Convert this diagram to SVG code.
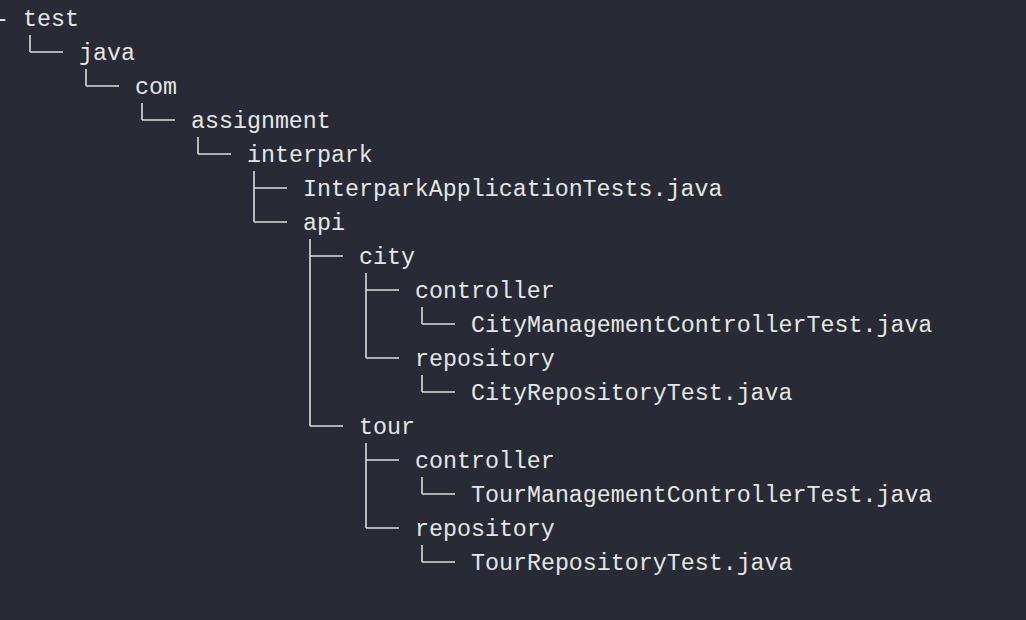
<svg xmlns="http://www.w3.org/2000/svg" width="1026" height="620" viewBox="0 0 1026 620">
<style>
text{font-family:"Liberation Mono","DejaVu Sans Mono",monospace;font-size:23.3px;fill:#e6e6e6}
.c line{stroke:#dcdcdc;stroke-width:1.6}
</style>
<rect width="1026" height="620" fill="#282a35"/>
<g class="c" id="connectors">
<line x1="30" y1="35" x2="30" y2="52"/><line x1="30" y1="52" x2="63" y2="52"/>
<line x1="86" y1="69" x2="86" y2="86"/><line x1="86" y1="86" x2="119" y2="86"/>
<line x1="142" y1="103" x2="142" y2="120"/><line x1="142" y1="120" x2="175" y2="120"/>
<line x1="198" y1="137" x2="198" y2="154"/><line x1="198" y1="154" x2="231" y2="154"/>
<line x1="254" y1="171" x2="254" y2="222"/><line x1="254" y1="188" x2="287" y2="188"/><line x1="254" y1="222" x2="287" y2="222"/>
<line x1="310" y1="239" x2="310" y2="426"/><line x1="310" y1="256" x2="343" y2="256"/><line x1="310" y1="426" x2="343" y2="426"/>
<line x1="366" y1="273" x2="366" y2="358"/><line x1="366" y1="290" x2="399" y2="290"/><line x1="366" y1="358" x2="399" y2="358"/>
<line x1="422" y1="307" x2="422" y2="324"/><line x1="422" y1="324" x2="455" y2="324"/>
<line x1="422" y1="375" x2="422" y2="392"/><line x1="422" y1="392" x2="455" y2="392"/>
<line x1="366" y1="443" x2="366" y2="528"/><line x1="366" y1="460" x2="399" y2="460"/><line x1="366" y1="528" x2="399" y2="528"/>
<line x1="422" y1="477" x2="422" y2="494"/><line x1="422" y1="494" x2="455" y2="494"/>
<line x1="422" y1="545" x2="422" y2="562"/><line x1="422" y1="562" x2="455" y2="562"/>
</g>
<g id="n0"><text x="-5" y="26">- test</text></g>
<g id="n1"><text x="79" y="60">java</text></g>
<g id="n2"><text x="135" y="94">com</text></g>
<g id="n3"><text x="191" y="128">assignment</text></g>
<g id="n4"><text x="247" y="162">interpark</text></g>
<g id="n5"><text x="303" y="196">InterparkApplicationTests.java</text></g>
<g id="n6"><text x="303" y="230">api</text></g>
<g id="n7"><text x="359" y="264">city</text></g>
<g id="n8"><text x="415" y="298">controller</text></g>
<g id="n9"><text x="471" y="332">CityManagementControllerTest.java</text></g>
<g id="n10"><text x="415" y="366">repository</text></g>
<g id="n11"><text x="471" y="400">CityRepositoryTest.java</text></g>
<g id="n12"><text x="359" y="434">tour</text></g>
<g id="n13"><text x="415" y="468">controller</text></g>
<g id="n14"><text x="471" y="502">TourManagementControllerTest.java</text></g>
<g id="n15"><text x="415" y="536">repository</text></g>
<g id="n16"><text x="471" y="570">TourRepositoryTest.java</text></g>
</svg>
